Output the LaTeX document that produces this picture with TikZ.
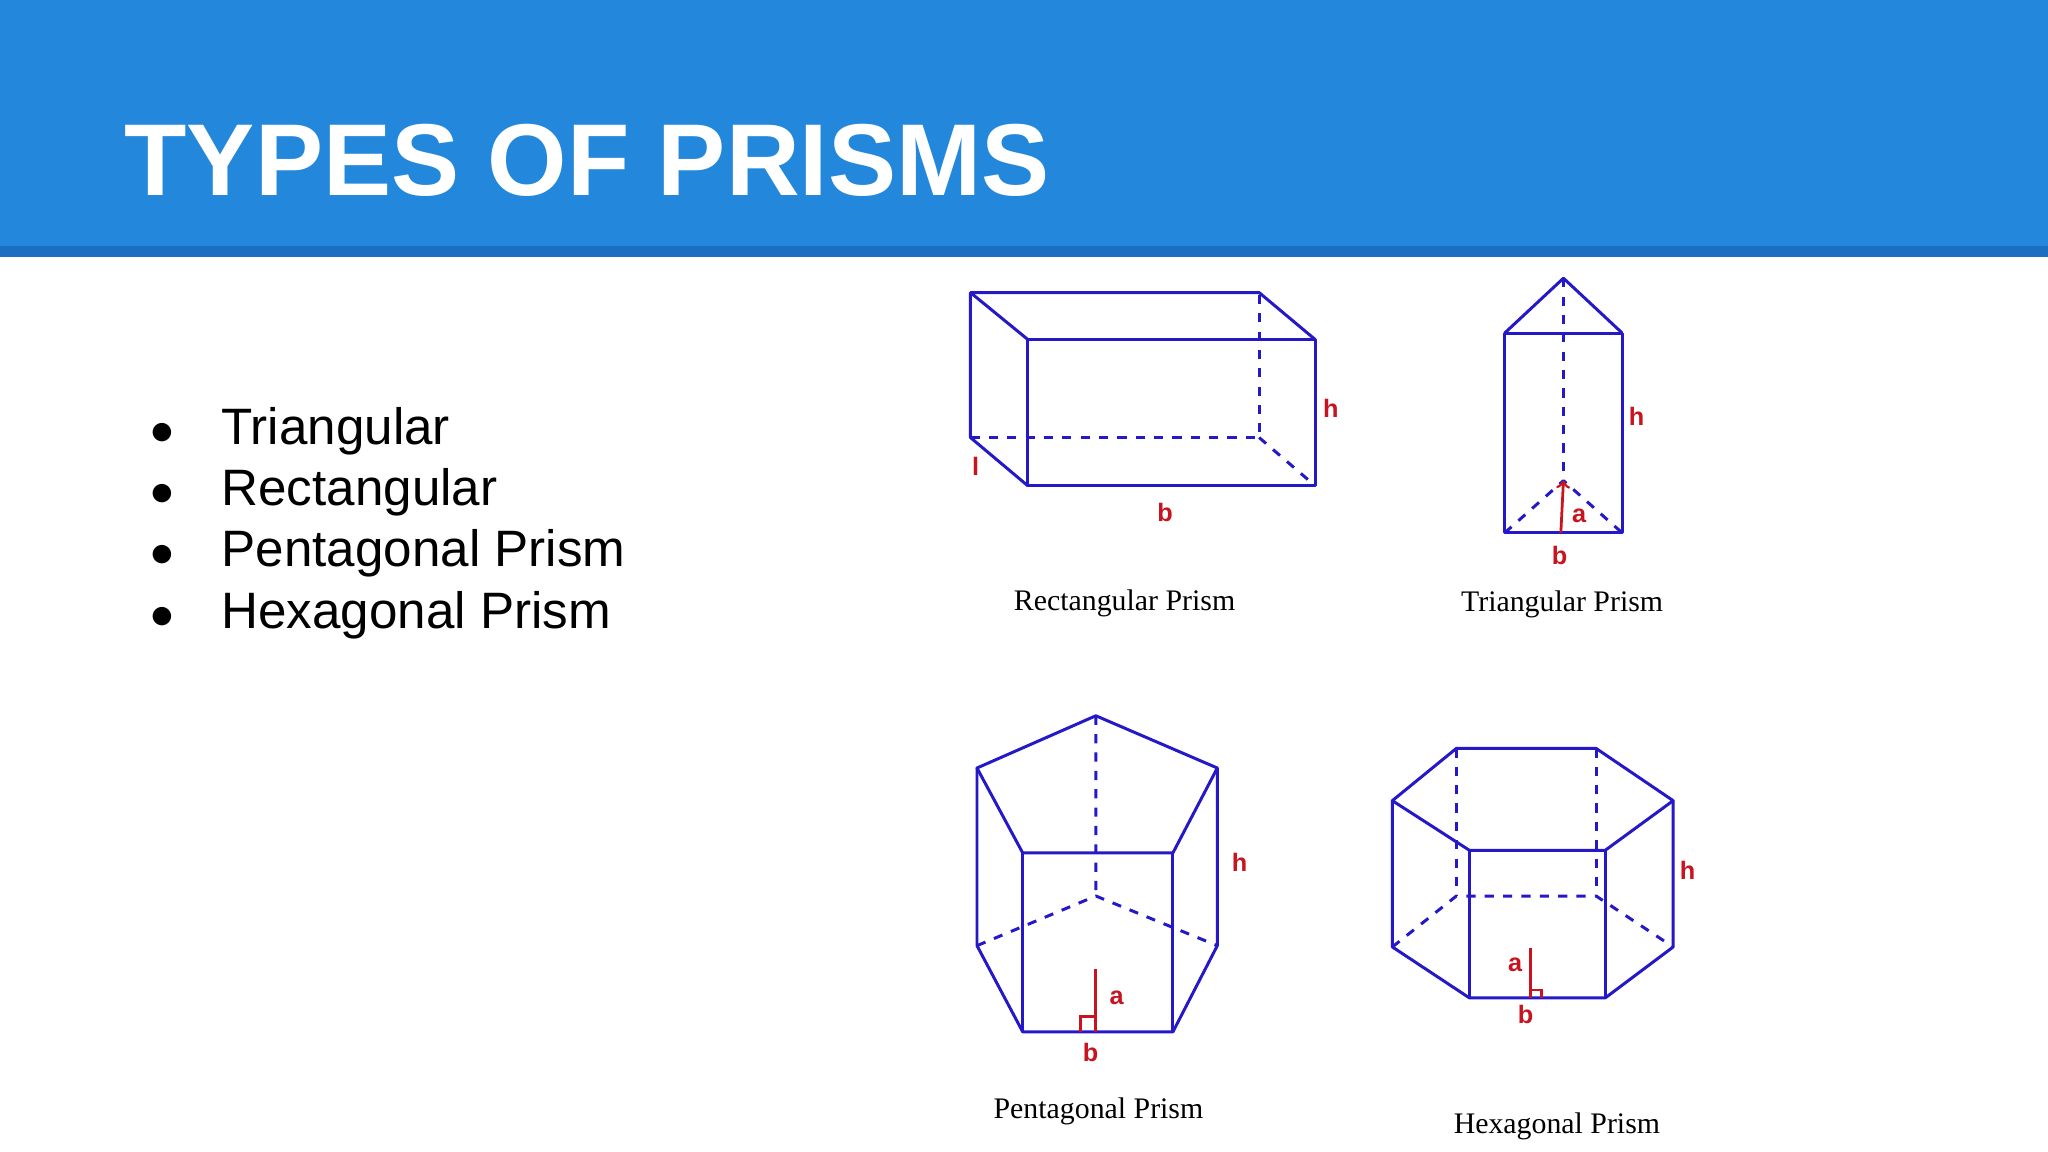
\documentclass[tikz,border=0pt]{standalone}
\usepackage{fontspec}
\setmainfont{Liberation Sans}
\newfontfamily\capfont{Liberation Serif}
\definecolor{headblue}{HTML}{2388DC}
\definecolor{stripblue}{HTML}{1B6FC0}
\definecolor{edgeblue}{HTML}{2418C8}
\definecolor{markred}{HTML}{C8141E}
\tikzset{
  edge/.style={draw=edgeblue, line width=1.3pt, line join=round},
  hidden/.style={edge, dash pattern=on 4pt off 4pt},
  redmark/.style={draw=markred, line width=1.2pt},
  lbl/.style={text=markred, font=\fontsize{11}{11}\selectfont\bfseries, inner sep=0pt},
  capt/.style={font=\capfont\fontsize{13}{13}\selectfont, inner sep=0pt},
  bullet/.style={anchor=base west, font=\fontsize{22.3}{22.3}\selectfont, inner sep=0pt}
}
\begin{document}
\begin{tikzpicture}[x=0.02cm, y=-0.02cm]
  \useasboundingbox (0,0) rectangle (1568,882);
  \fill[white] (0,0) rectangle (1568,882);
  \fill[headblue] (0,0) rectangle (1568,188);
  \fill[stripblue] (0,188) rectangle (1568,197);
  \node[anchor=base west, text=white, font=\fontsize{44.5}{44.5}\selectfont\bfseries, inner sep=0pt] (title) at (95,150) {TYPES OF PRISMS};

  % list
  \node[bullet] (b1) at (115,340) {$\bullet$\hspace{0.72cm}Triangular};
  \node[bullet] (b2) at (115,387) {$\bullet$\hspace{0.72cm}Rectangular};
  \node[bullet] (b3) at (115,434) {$\bullet$\hspace{0.72cm}Pentagonal Prism};
  \node[bullet] (b4) at (115,481) {$\bullet$\hspace{0.72cm}Hexagonal Prism};

  % rectangular prism
  \draw[edge] (787,260) rectangle (1007,372);
  \draw[edge] (787,372) -- (743,335) -- (743,224) -- (964,224) -- (1007,260);
  \draw[edge] (743,224) -- (787,260);
  \draw[hidden] (743,335) -- (964,335) -- (964,224);
  \draw[hidden] (964,335) -- (1007,372);
  \node[lbl] (rh) at (1019,313) {h};
  \node[lbl] (rl) at (747,357) {l};
  \node[lbl] (rb) at (892,392) {b};
  \node[capt] (rcap) at (861,462) {Rectangular Prism};

  % triangular prism
  \draw[edge] (1152,255) rectangle (1242,408);
  \draw[edge] (1152,255) -- (1197,213) -- (1242,255);
  \draw[hidden] (1197,213) -- (1197,368);
  \draw[hidden] (1152,408) -- (1197,368) -- (1242,408);
  \draw[redmark, ->] (1195,408) -- (1197,368);
  \node[lbl] (ta) at (1209,395) {a};
  \node[lbl] (tb) at (1194,425) {b};
  \node[lbl] (th) at (1253,319) {h};
  \node[capt] (tcap) at (1196,463) {Triangular Prism};

  % pentagonal prism
  \draw[edge] (839,548) -- (932,588) -- (898,653) -- (783,653) -- (748,588) -- cycle;
  \draw[edge] (748,588) -- (748,724) -- (783,790) -- (898,790) -- (932,724) -- (932,588);
  \draw[edge] (783,653) -- (783,790) (898,653) -- (898,790);
  \draw[hidden] (839,548) -- (839,686) (748,724) -- (839,686) -- (932,724);
  \draw[redmark] (839,742) -- (839,790) (827,790) -- (827,778) -- (839,778);
  \node[lbl] (pa) at (855,764) {a};
  \node[lbl] (pb) at (835,806) {b};
  \node[lbl] (ph) at (949,660) {h};
  \node[capt] (pcap) at (841,851) {Pentagonal Prism};

  % hexagonal prism
  \draw[edge] (1115,573) -- (1222,573) -- (1281,613) -- (1229,651) -- (1125,651) -- (1066,613) -- cycle;
  \draw[edge] (1066,613) -- (1066,725) -- (1125,764) -- (1229,764) -- (1281,725) -- (1281,613);
  \draw[edge] (1125,651) -- (1125,764) (1229,651) -- (1229,764);
  \draw[hidden] (1115,573) -- (1115,686) (1222,573) -- (1222,686);
  \draw[hidden] (1066,725) -- (1115,686) -- (1222,686) -- (1281,725);
  \draw[redmark] (1172,726) -- (1172,764) (1172,758) -- (1180,758) -- (1180,764);
  \node[lbl] (ha) at (1160,739) {a};
  \node[lbl] (hb) at (1168,777) {b};
  \node[lbl] (hh) at (1292,666) {h};
  \node[capt] (hcap) at (1192,862) {Hexagonal Prism};
\end{tikzpicture}
\end{document}
